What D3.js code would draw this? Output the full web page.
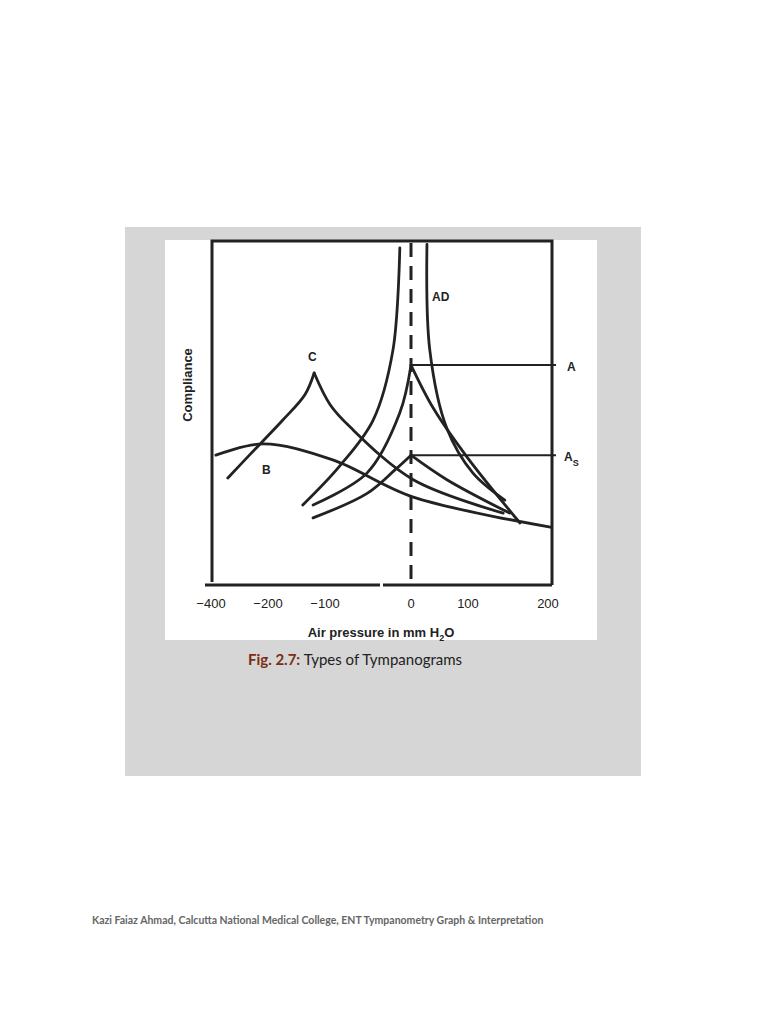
<!DOCTYPE html>
<html><head><meta charset="utf-8">
<script src="https://cdn.jsdelivr.net/npm/d3@7"></script>
<style>body{margin:0;background:#fff}</style>
</head><body>
<svg id="chart" width="768" height="1024"></svg>
<script>
// x ticks (air pressure, mm H2O)
const xTicks = [-400, -200, -100, 0, 100, 200];
// curves: [pressure, compliance] points, branches end at the peak
const adLeft = [[-139, 22.6], [-83, 34], [-44, 47.5], [-21, 68], [-13, 98]];
const adRight = [[28, 99], [33, 68], [63, 45], [106, 32], [146, 24]];
const aLeft = [[-121, 22.6], [-51, 32], [-13, 49.6], [0, 63.6]];
const aRight = [[0, 63.6], [39, 51], [98, 36.7], [165, 17.3]];
const asLeft = [[-121, 18.8], [-51, 26], [-19, 32.8], [0, 37.2]];
const asRight = [[0, 37.2], [63, 30], [152, 20.2]];
const cLeft = [[-341, 30.5], [-262, 37.5], [-174, 47.5], [-135, 55], [-119, 61.3]];
const cRight = [[-119, 61.3], [-94, 52], [-71, 45.5], [4, 30], [144, 20.2]];
const bCurve = [[-383, 37.2], [-217, 40.5], [-91, 35.8], [4, 24.9], [203, 16.1]];

const svg = d3.select("#chart");
svg.append("rect").attr("x", 125).attr("y", 227).attr("width", 516).attr("height", 549).attr("fill", "#d6d6d6");
svg.append("rect").attr("x", 165).attr("y", 240).attr("width", 432).attr("height", 400).attr("fill", "#fff");

// hand-drawn axis is uneven, so the scale is piecewise
const x = d3.scaleLinear().domain(xTicks).range([211, 268, 325, 411, 468, 548]);
const y = d3.scaleLinear().domain([0, 100]).range([582, 241]);

const ink = "#222";
const g = svg.append("g");
// frame
g.append("path").attr("d", "M212,582 V241 H552 V585").attr("fill", "none").attr("stroke", ink).attr("stroke-width", 3);
g.append("line").attr("x1", 205).attr("x2", 380).attr("y1", 585).attr("y2", 585).attr("stroke", ink).attr("stroke-width", 3);
g.append("line").attr("x1", 383).attr("x2", 552).attr("y1", 585).attr("y2", 585).attr("stroke", ink).attr("stroke-width", 3);
// zero dashed line
g.append("line").attr("x1", x(0)).attr("x2", x(0)).attr("y1", 243).attr("y2", 585)
  .attr("stroke", ink).attr("stroke-width", 3).attr("stroke-dasharray", "14,9");

const line = d3.line().x(d => x(d[0])).y(d => y(d[1])).curve(d3.curveCatmullRom);
[adLeft, adRight, aLeft, aRight, asLeft, asRight, cLeft, cRight, bCurve].forEach(c => {
  g.append("path").attr("d", line(c)).attr("fill", "none").attr("stroke", ink).attr("stroke-width", 2.8).attr("stroke-linecap", "round");
});
// A and As leaders
[63.6, 37.2].forEach(v => {
  g.append("line").attr("x1", x(0)).attr("x2", 556).attr("y1", y(v)).attr("y2", y(v)).attr("stroke", ink).attr("stroke-width", 2);
});

const lab = (t, px, py, size) => g.append("text").attr("x", px).attr("y", py).text(t)
  .attr("font-family", "Liberation Sans, Arial").attr("font-weight", "bold").attr("font-size", size || 12).attr("fill", ink);
lab("AD", 432, 301);
lab("C", 308, 361);
lab("A", 567, 371);
lab("B", 262, 474);
const as = lab("A", 564, 461);
as.append("tspan").attr("dy", 5).attr("font-size", 9).text("S");

// tick labels
g.selectAll(".tick").data(xTicks).join("text")
  .attr("x", d => x(d)).attr("y", 608).attr("text-anchor", "middle")
  .attr("font-family", "Liberation Sans, Arial").attr("font-size", 13).attr("fill", ink)
  .text(d => d < 0 ? "\u2212" + (-d) : d);

const xt = g.append("text").attr("x", 381).attr("y", 637).attr("text-anchor", "middle")
  .attr("font-family", "Liberation Sans, Arial").attr("font-weight", "bold").attr("font-size", 13).attr("fill", ink)
  .text("Air pressure in mm H");
xt.append("tspan").attr("dy", 4).attr("font-size", 9).text("2");
xt.append("tspan").attr("dy", -4).text("O");

g.append("text").attr("transform", "translate(192,385) rotate(-90)").attr("text-anchor", "middle")
  .attr("font-family", "Liberation Sans, Arial").attr("font-weight", "bold").attr("font-size", 13).attr("fill", ink)
  .text("Compliance");

const cap = svg.append("text").attr("x", 248).attr("y", 665).attr("font-family", "Lato").attr("font-size", 15).attr("fill", "#222");
cap.append("tspan").attr("fill", "#7a2e12").attr("font-weight", "bold").text("Fig. 2.7:");
cap.append("tspan").text(" Types of Tympanograms");

svg.append("text").attr("x", 92).attr("y", 924).attr("font-family", "Lato").attr("font-size", 10.5).attr("font-weight", "bold").attr("fill", "#666")
  .text("Kazi Faiaz Ahmad, Calcutta National Medical College, ENT Tympanometry Graph & Interpretation");
</script>
</body></html>
